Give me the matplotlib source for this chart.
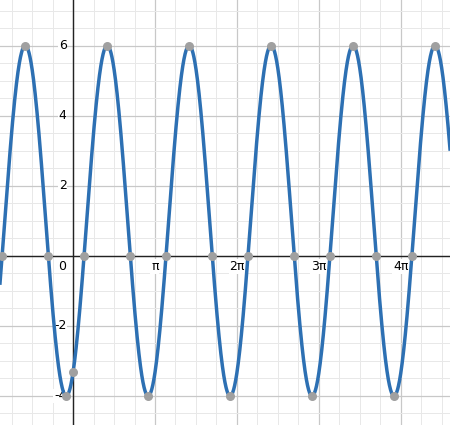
import numpy as np
import matplotlib.pyplot as plt
from matplotlib.ticker import MultipleLocator

amp = 5
mid = 1
freq = 2
phase = -np.pi/3
xlim = (-2.8, 14.45)
ylim = (-4.83, 7.3)
xlabels = ["π", "2π", "3π", "4π"]
ylabels = [-4, -2, 2, 4, 6]

fig = plt.figure(figsize=(4.5, 4.25), dpi=100)
ax = fig.add_axes([0, 0, 1, 1])
ax.set_xlim(*xlim); ax.set_ylim(*ylim)
ax.xaxis.set_major_locator(MultipleLocator(np.pi))
ax.xaxis.set_minor_locator(MultipleLocator(np.pi/4))
ax.yaxis.set_major_locator(MultipleLocator(2))
ax.yaxis.set_minor_locator(MultipleLocator(0.5))
ax.set_axisbelow(True)
ax.grid(which='major', color='#c8c8c8', lw=0.9)
ax.grid(which='minor', color='#e8e8e8', lw=0.7)
ax.tick_params(which='both', length=0, labelbottom=False, labelleft=False)
for s in ax.spines.values(): s.set_visible(False)
ax.axhline(0, color='#222', lw=1, zorder=1)
ax.axvline(0, color='#222', lw=1, zorder=1)

x = np.linspace(*xlim, 2000)
f = lambda t: amp*np.sin(freq*t+phase)+mid
ax.plot(x, f(x), color='#2d70b3', lw=2.5, zorder=3)

pts = []
for k in range(-3, 12):
    for base in [np.pi/2, -np.pi/2, np.arcsin(-mid/amp), np.pi-np.arcsin(-mid/amp)]:
        t = (base + 2*np.pi*k - phase)/freq
        if xlim[0] < t < xlim[1]:
            pts.append(t)
pts = np.array(pts)
ax.scatter(pts, f(pts), s=30, color='#a0a0a0', zorder=4)
ax.scatter([0], [f(0)], s=30, color='#a0a0a0', zorder=4)

for i, lab in enumerate(xlabels):
    ax.text((i+1)*np.pi, -0.12, lab, ha='center', va='top', fontsize=9, zorder=2,
            bbox=dict(fc='white', ec='none', pad=0.5))
for v in ylabels:
    ax.text(-0.25, v, str(v), ha='right', va='center', fontsize=9, zorder=2,
            bbox=dict(fc='white', ec='none', pad=0.5))
ax.text(-0.25, -0.12, "0", ha='right', va='top', fontsize=9, zorder=2)
fig.savefig('out.png', dpi=100)
